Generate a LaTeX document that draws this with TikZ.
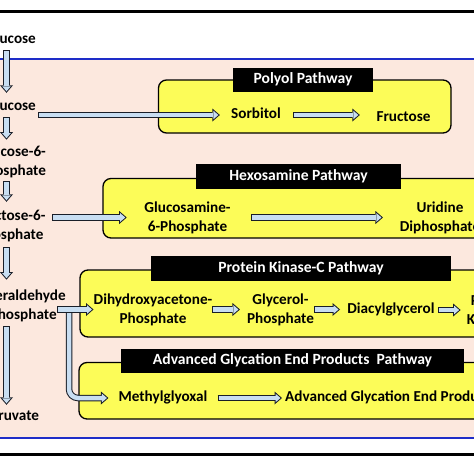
\documentclass[tikz,border=0pt]{standalone}
\usepackage{fontspec}
\setmainfont{Carlito}
\usetikzlibrary{arrows.meta}
\definecolor{pinkbg}{RGB}{252,232,222}
\definecolor{yboxc}{RGB}{252,252,88}
\definecolor{bluel}{RGB}{30,45,200}
\definecolor{afill}{RGB}{200,222,242}
\definecolor{aedge}{RGB}{25,30,40}
\tikzset{
  txt/.style={inner sep=0pt, font=\fontsize{15.2}{19}\selectfont\bfseries, align=center},
  one/.style={text height=10pt, text depth=3pt},
  ptitle/.style={fill=black, text=white, inner sep=0pt, font=\fontsize{15.6}{19}\selectfont\bfseries, text height=10pt, text depth=3pt},
  pbox/.style={draw=black, line width=1.3pt, fill=yboxc, rounded corners=8pt, inner sep=0pt},
  flow/.style 2 args={draw=aedge, line width=6.5pt,
    -{Triangle[length=7.5pt,width=13pt,line width=0pt]},
    shorten <=#1, shorten >=#2,
    postaction={draw=afill, line width=4.5pt,
      -{Triangle[length=5pt,width=8.6pt,line width=0pt]},
      shorten <=#1+1pt, shorten >=#2+1.5pt}}
}
\begin{document}
\begin{tikzpicture}[x=1pt,y=-1pt]
\useasboundingbox (0,0) rectangle (474,474);
\clip (0,0) rectangle (474,474);
% frame
\fill[white] (0,0) rectangle (474,474);
\fill[pinkbg] (0,59) rectangle (474,438);
\draw[line width=3pt] (0,11.5) -- (474,11.5);
\draw[line width=3pt] (0,454.5) -- (474,454.5);
\draw[bluel, line width=2.5pt] (0,59) -- (474,59);
\draw[bluel, line width=2.5pt] (0,438) -- (474,438);
% pathway boxes
\node[pbox, minimum width=292.5pt, minimum height=53pt] (polybox) at (304.75,106.5) {};
\node[pbox, minimum width=397pt, minimum height=59.5pt] (hexbox) at (301.5,208.25) {};
\node[pbox, minimum width=420pt, minimum height=67pt] (pkcbox) at (290,303.5) {};
\node[pbox, minimum width=421pt, minimum height=56.5pt] (agebox) at (289.5,390.75) {};
% titles
\node[ptitle, minimum width=140pt, minimum height=24pt] (tpoly) at (303,80) {Polyol Pathway};
\node[ptitle, minimum width=205pt, minimum height=25pt] (thex) at (298.5,176.5) {Hexosamine Pathway};
\node[ptitle, minimum width=300pt, minimum height=25pt] (tpkc) at (301,268.5) {Protein Kinase-C Pathway};
\node[ptitle, minimum width=343pt, minimum height=24pt] (tage) at (292.5,361) {Advanced Glycation End Products\ \ Pathway};
% glycolysis column
\coordinate (ax) at (6.5,0);
\node[txt,one] (glc0) at (11,40) {Glucose};
\node[txt,one] (glc) at (11,107) {Glucose};
\node[txt] (g6p) at (12.5,161.5) {Glucose-6-\\Phosphate};
\node[txt] (f6p) at (10,226.5) {Fructose-6-\\Phosphate};
\node[txt] (gap) at (17,305.5) {Glyceraldehyde\\3-Phosphate};
\node[txt,one] (pyr) at (11,417) {Pyruvate};
% pathway contents
\node[txt,one] (sorb) at (256,115) {Sorbitol};
\node[txt,one] (fruc) at (403.5,118) {Fructose};
\node[txt] (glcn) at (187.5,217.5) {Glucosamine-\\6-Phosphate};
\node[txt] (udp) at (440,217.5) {Uridine\\Diphosphate};
\node[txt] (dhap) at (153,309.5) {Dihydroxyacetone-\\Phosphate};
\node[txt] (glyp) at (280.5,309.5) {Glycerol-\\Phosphate};
\node[txt,one] (dag) at (391,310) {Diacylglycerol};
\node[txt] (pkc) at (494,309.5) {Protein\\Kinase-C};
\node[txt,one] (meth) at (163,398) {Methylglyoxal};
\node[txt,one,anchor=west] (agep) at (285,398) {Advanced Glycation End Products};
% vertical arrows
\draw[flow={3.5pt}{7.5pt}] (glc0.south -| ax) -- (glc.north -| ax);
\draw[flow={3.5pt}{5.6pt}] (glc.south -| ax) -- (g6p.north -| ax);
\draw[flow={3.6pt}{8.6pt}] (g6p.south -| ax) -- (f6p.north -| ax);
\draw[flow={4.6pt}{9.6pt}] (f6p.south -| ax) -- (gap.north -| ax);
\draw[flow={4.6pt}{5.5pt}] (gap.south -| ax) -- (pyr.north -| ax);
% branch to AGE
\coordinate (bs) at (69,312);
\draw[flow={0pt}{10pt}, rounded corners=9pt] (bs) |- (meth.west);
% horizontal arrows
\draw[flow={2.2pt}{11.1pt}] (glc.east |- sorb) -- (sorb);
\draw[flow={12.1pt}{16.5pt}] (sorb) -- (sorb -| fruc.west);
\draw[flow={6.5pt}{17.5pt}] (f6p.east |- glcn) -- (glcn);
\draw[flow={20.5pt}{16.7pt}] (glcn) -- (glcn -| udp.west);
\draw[flow={40pt}{0pt}] (gap.center |- dhap) -- (dhap);
\draw[flow={0pt}{6.9pt}] (dhap) -- (glyp);
\draw[flow={0pt}{7.2pt}] (glyp) -- (glyp -| dag.west);
\draw[flow={3.2pt}{6.1pt}] (dag) -- (dag -| pkc.west);
\draw[flow={10pt}{3pt}] (meth) -- (agep);
\end{tikzpicture}
\end{document}
